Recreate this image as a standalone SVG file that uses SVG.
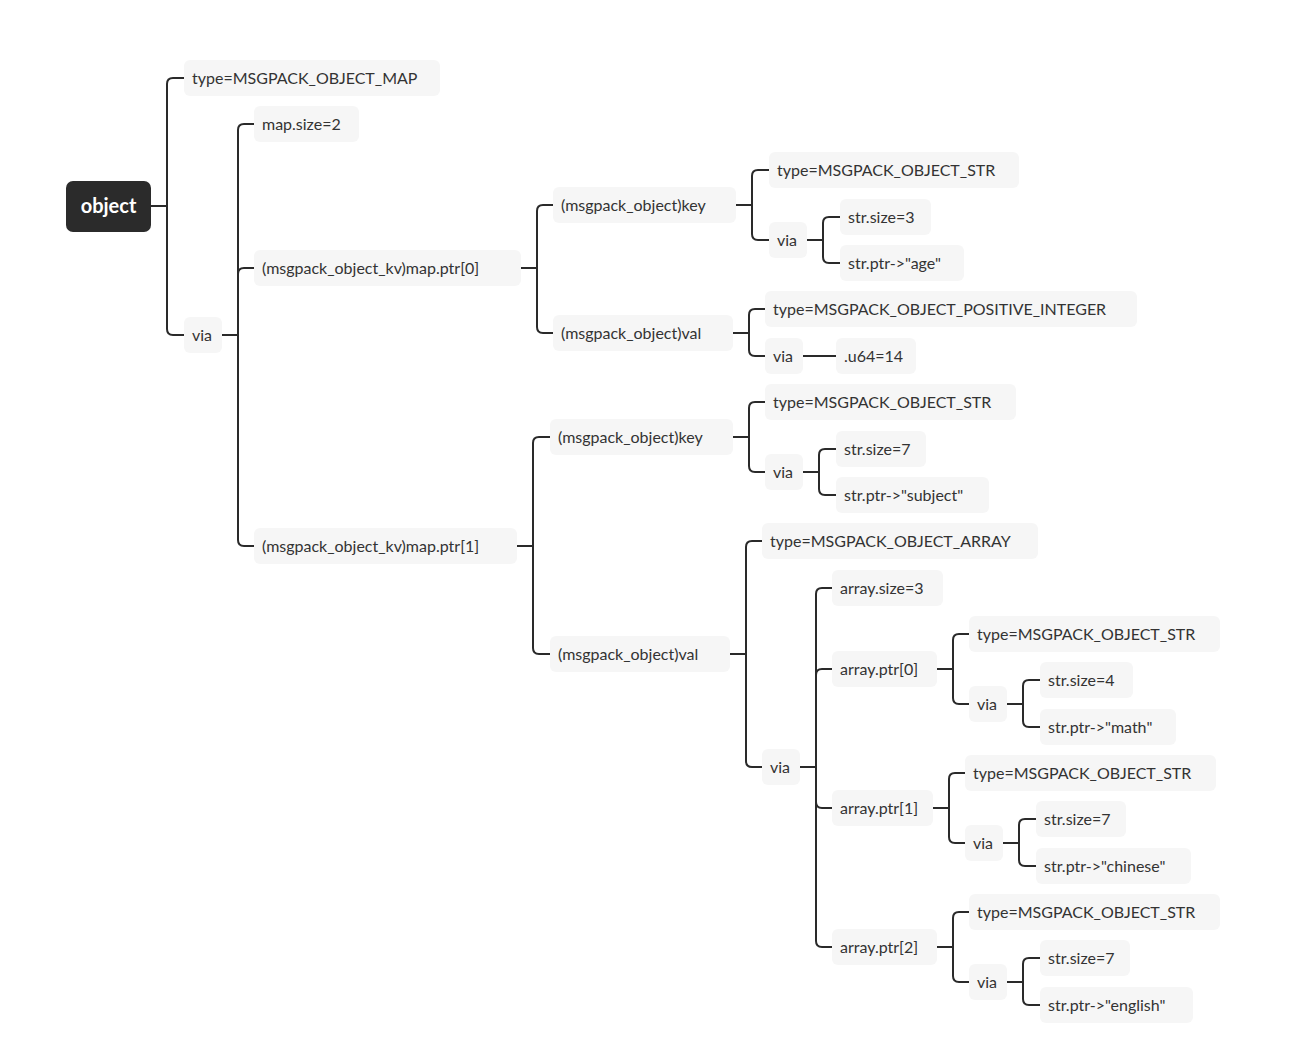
<svg xmlns="http://www.w3.org/2000/svg" width="1307" height="1055" viewBox="0 0 1307 1055">
<style>
.b{fill:#f6f6f6}
.t{font-family:Lato,"Open Sans",sans-serif;font-size:16px;fill:#333}
.c path{fill:none;stroke:#2a2a2a;stroke-width:2}
</style>
<rect width="1307" height="1055" fill="#fff"/>
<g class="c">
<path d="M151 206 H167 M167 206 V84 Q167 78 173 78 H184 M167 206 V329 Q167 335 173 335 H184"/>
<path d="M222 335 H238 M238 335 V130 Q238 124 244 124 H254 M238 335 V274 Q238 268 244 268 H254 M238 335 V540 Q238 546 244 546 H254"/>
<path d="M521 268 H537 M537 268 V211 Q537 205 543 205 H553 M537 268 V327 Q537 333 543 333 H553"/>
<path d="M736 205 H752 V176 Q752 170 758 170 H769 M752 205 V234 Q752 240 758 240 H769"/>
<path d="M807 240 H823 V223 Q823 217 829 217 H840 M823 240 V257 Q823 263 829 263 H840"/>
<path d="M733 333 H749 V315 Q749 309 755 309 H765 M749 333 V350 Q749 356 755 356 H765"/>
<path d="M803 356 H836"/>
<path d="M517 546 H533 M533 546 V443 Q533 437 539 437 H550 M533 546 V648 Q533 654 539 654 H550"/>
<path d="M733 437 H749 V408 Q749 402 755 402 H765 M749 437 V466 Q749 472 755 472 H765"/>
<path d="M803 472 H819 V455 Q819 449 825 449 H836 M819 472 V489 Q819 495 825 495 H836"/>
<path d="M730 654 H746 V547 Q746 541 752 541 H762 M746 654 V761 Q746 767 752 767 H762"/>
<path d="M800 767 H816 M816 767 V594 Q816 588 822 588 H832 M816 767 V675 Q816 669 822 669 H832 M816 767 V802 Q816 808 822 808 H832 M816 767 V941 Q816 947 822 947 H832"/>
<path d="M937 669 H953 V640 Q953 634 959 634 H969 M953 669 V698 Q953 704 959 704 H969"/>
<path d="M1007 704 H1023 V686 Q1023 680 1029 680 H1040 M1023 704 V721 Q1023 727 1029 727 H1040"/>
<path d="M933 808 H949 V779 Q949 773 955 773 H965 M949 808 V837 Q949 843 955 843 H965"/>
<path d="M1003 843 H1019 V825 Q1019 819 1025 819 H1036 M1019 843 V860 Q1019 866 1025 866 H1036"/>
<path d="M937 947 H953 V918 Q953 912 959 912 H969 M953 947 V976 Q953 982 959 982 H969"/>
<path d="M1007 982 H1023 V964 Q1023 958 1029 958 H1040 M1023 982 V999 Q1023 1005 1029 1005 H1040"/>
</g>
<g id="root"><rect x="66" y="181" width="85" height="51" rx="7" fill="#2b2b2b"/><text x="108.5" y="213" text-anchor="middle" font-family="Lato,'Open Sans',sans-serif" font-size="20" font-weight="bold" fill="#fff">object</text></g>
<g id="n1"><rect class="b" x="184" y="60" width="256" height="36" rx="6"/><text class="t" x="192" y="84">type=MSGPACK_OBJECT_MAP</text></g>
<g id="n2"><rect class="b" x="184" y="317" width="38" height="36" rx="6"/><text class="t" x="192" y="341">via</text></g>
<g id="n3"><rect class="b" x="254" y="106" width="105" height="36" rx="6"/><text class="t" x="262" y="130">map.size=2</text></g>
<g id="n4"><rect class="b" x="254" y="250" width="267" height="36" rx="6"/><text class="t" x="262" y="274">(msgpack_object_kv)map.ptr[0]</text></g>
<g id="n5"><rect class="b" x="254" y="528" width="263" height="36" rx="6"/><text class="t" x="262" y="552">(msgpack_object_kv)map.ptr[1]</text></g>
<g id="n6"><rect class="b" x="553" y="187" width="183" height="36" rx="6"/><text class="t" x="561" y="211">(msgpack_object)key</text></g>
<g id="n7"><rect class="b" x="553" y="315" width="180" height="36" rx="6"/><text class="t" x="561" y="339">(msgpack_object)val</text></g>
<g id="n8"><rect class="b" x="769" y="152" width="250" height="36" rx="6"/><text class="t" x="777" y="176">type=MSGPACK_OBJECT_STR</text></g>
<g id="n9"><rect class="b" x="769" y="222" width="38" height="36" rx="6"/><text class="t" x="777" y="246">via</text></g>
<g id="n10"><rect class="b" x="840" y="199" width="91" height="36" rx="6"/><text class="t" x="848" y="223">str.size=3</text></g>
<g id="n11"><rect class="b" x="840" y="245" width="124" height="36" rx="6"/><text class="t" x="848" y="269">str.ptr-&gt;"age"</text></g>
<g id="n12"><rect class="b" x="765" y="291" width="372" height="36" rx="6"/><text class="t" x="773" y="315">type=MSGPACK_OBJECT_POSITIVE_INTEGER</text></g>
<g id="n13"><rect class="b" x="765" y="338" width="38" height="36" rx="6"/><text class="t" x="773" y="362">via</text></g>
<g id="n14"><rect class="b" x="836" y="338" width="80" height="36" rx="6"/><text class="t" x="844" y="362">.u64=14</text></g>
<g id="n15"><rect class="b" x="550" y="419" width="183" height="36" rx="6"/><text class="t" x="558" y="443">(msgpack_object)key</text></g>
<g id="n16"><rect class="b" x="550" y="636" width="180" height="36" rx="6"/><text class="t" x="558" y="660">(msgpack_object)val</text></g>
<g id="n17"><rect class="b" x="765" y="384" width="251" height="36" rx="6"/><text class="t" x="773" y="408">type=MSGPACK_OBJECT_STR</text></g>
<g id="n18"><rect class="b" x="765" y="454" width="38" height="36" rx="6"/><text class="t" x="773" y="478">via</text></g>
<g id="n19"><rect class="b" x="836" y="431" width="90" height="36" rx="6"/><text class="t" x="844" y="455">str.size=7</text></g>
<g id="n20"><rect class="b" x="836" y="477" width="153" height="36" rx="6"/><text class="t" x="844" y="501">str.ptr-&gt;"subject"</text></g>
<g id="n21"><rect class="b" x="762" y="523" width="276" height="36" rx="6"/><text class="t" x="770" y="547">type=MSGPACK_OBJECT_ARRAY</text></g>
<g id="n22"><rect class="b" x="762" y="749" width="38" height="36" rx="6"/><text class="t" x="770" y="773">via</text></g>
<g id="n23"><rect class="b" x="832" y="570" width="111" height="36" rx="6"/><text class="t" x="840" y="594">array.size=3</text></g>
<g id="n24"><rect class="b" x="832" y="651" width="105" height="36" rx="6"/><text class="t" x="840" y="675">array.ptr[0]</text></g>
<g id="n25"><rect class="b" x="832" y="790" width="101" height="36" rx="6"/><text class="t" x="840" y="814">array.ptr[1]</text></g>
<g id="n26"><rect class="b" x="832" y="929" width="105" height="36" rx="6"/><text class="t" x="840" y="953">array.ptr[2]</text></g>
<g id="n27"><rect class="b" x="969" y="616" width="251" height="36" rx="6"/><text class="t" x="977" y="640">type=MSGPACK_OBJECT_STR</text></g>
<g id="n28"><rect class="b" x="969" y="686" width="38" height="36" rx="6"/><text class="t" x="977" y="710">via</text></g>
<g id="n29"><rect class="b" x="1040" y="662" width="93" height="36" rx="6"/><text class="t" x="1048" y="686">str.size=4</text></g>
<g id="n30"><rect class="b" x="1040" y="709" width="136" height="36" rx="6"/><text class="t" x="1048" y="733">str.ptr-&gt;"math"</text></g>
<g id="n31"><rect class="b" x="965" y="755" width="251" height="36" rx="6"/><text class="t" x="973" y="779">type=MSGPACK_OBJECT_STR</text></g>
<g id="n32"><rect class="b" x="965" y="825" width="38" height="36" rx="6"/><text class="t" x="973" y="849">via</text></g>
<g id="n33"><rect class="b" x="1036" y="801" width="90" height="36" rx="6"/><text class="t" x="1044" y="825">str.size=7</text></g>
<g id="n34"><rect class="b" x="1036" y="848" width="155" height="36" rx="6"/><text class="t" x="1044" y="872">str.ptr-&gt;"chinese"</text></g>
<g id="n35"><rect class="b" x="969" y="894" width="251" height="36" rx="6"/><text class="t" x="977" y="918">type=MSGPACK_OBJECT_STR</text></g>
<g id="n36"><rect class="b" x="969" y="964" width="38" height="36" rx="6"/><text class="t" x="977" y="988">via</text></g>
<g id="n37"><rect class="b" x="1040" y="940" width="90" height="36" rx="6"/><text class="t" x="1048" y="964">str.size=7</text></g>
<g id="n38"><rect class="b" x="1040" y="987" width="153" height="36" rx="6"/><text class="t" x="1048" y="1011">str.ptr-&gt;"english"</text></g>
</svg>
